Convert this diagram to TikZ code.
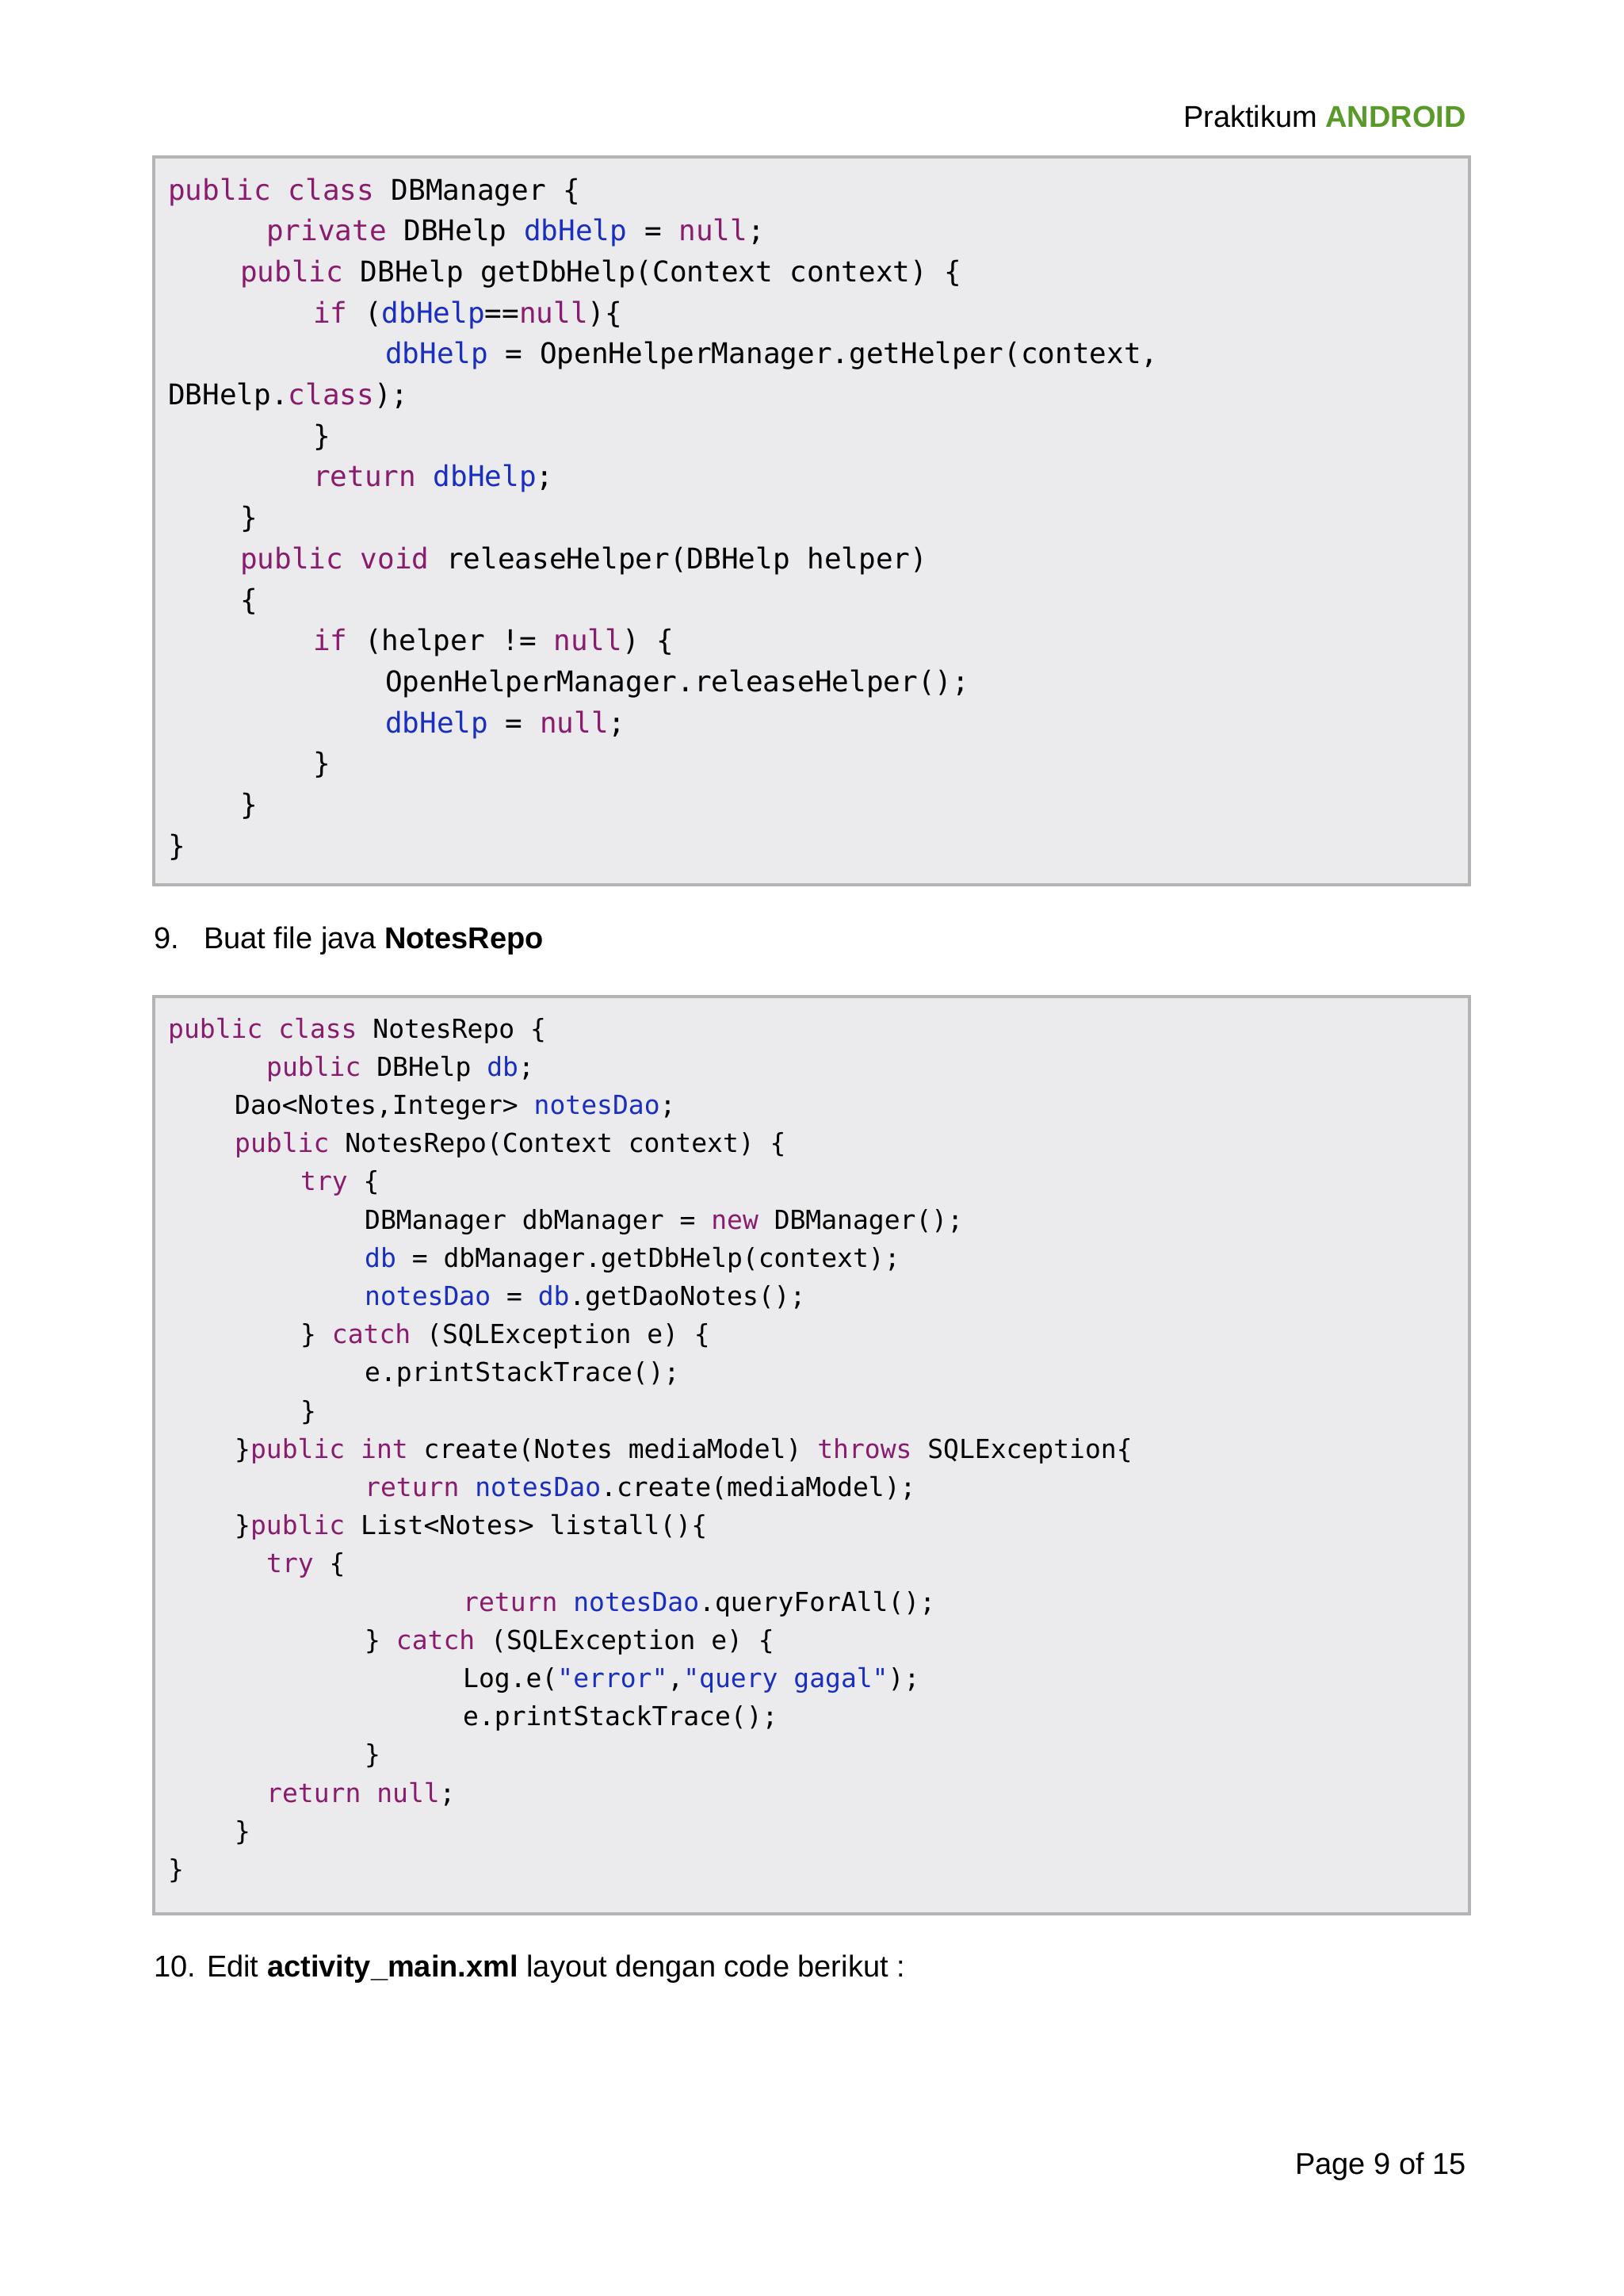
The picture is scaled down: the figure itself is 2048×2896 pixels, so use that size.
\documentclass[tikz,border=0pt]{standalone}
\usepackage{fontspec}
\setmainfont{Liberation Sans}
\newfontfamily\codeA{DejaVu Sans Mono}[Scale=1]
\definecolor{kwc}{HTML}{8A1C6E}
\definecolor{vrc}{HTML}{1A2FC0}
\definecolor{boxf}{HTML}{EBEBED}
\definecolor{boxd}{HTML}{B4B4B4}
\definecolor{andg}{HTML}{5A9A2A}
\newcommand{\kw}[1]{\textcolor{kwc}{#1}}
\newcommand{\vr}[1]{\textcolor{vrc}{#1}}
\begin{document}
\begin{tikzpicture}[x=1pt,y=-1pt,
 cA/.style={anchor=base west,inner sep=0pt,font=\fontsize{36}{40}\codeA},
 cB/.style={anchor=base west,inner sep=0pt,font=\fontsize{33}{36}\codeA},
 txt/.style={anchor=base west,inner sep=0pt,font=\fontsize{38}{44}\selectfont},
 txr/.style={anchor=base east,inner sep=0pt,font=\fontsize{38}{44}\selectfont},
 codebox/.style={draw=boxd,line width=4pt,fill=boxf}]
\useasboundingbox[fill=white] (0,0) rectangle (2048,2896);
\node[txr] (hdr) at (1850,160) {Praktikum \textcolor{andg}{\textbf{ANDROID}}};
\draw[codebox] (194,198) rectangle (1854,1116);
\def\dy{51.7}
\node[cA] (a1) at (212,252+0*\dy) {\kw{public} \kw{class} DBManager \{};
\node[cA] (a2) at (336,252+1*\dy) {\kw{private} DBHelp \vr{dbHelp} = \kw{null};};
\node[cA] (a3) at (303,252+2*\dy) {\kw{public} DBHelp getDbHelp(Context context) \{};
\node[cA] (a4) at (395,252+3*\dy) {\kw{if} (\vr{dbHelp}==\kw{null})\{};
\node[cA] (a5) at (486,252+4*\dy) {\vr{dbHelp} = OpenHelperManager.getHelper(context,};
\node[cA] (a6) at (212,252+5*\dy) {DBHelp.\kw{class});};
\node[cA] (a7) at (395,252+6*\dy) {\}};
\node[cA] (a8) at (395,252+7*\dy) {\kw{return} \vr{dbHelp};};
\node[cA] (a9) at (303,252+8*\dy) {\}};
\node[cA] (a10) at (303,252+9*\dy) {\kw{public} \kw{void} releaseHelper(DBHelp helper)};
\node[cA] (a11) at (303,252+10*\dy) {\{};
\node[cA] (a12) at (395,252+11*\dy) {\kw{if} (helper != \kw{null}) \{};
\node[cA] (a13) at (486,252+12*\dy) {OpenHelperManager.releaseHelper();};
\node[cA] (a14) at (486,252+13*\dy) {\vr{dbHelp} = \kw{null};};
\node[cA] (a15) at (395,252+14*\dy) {\}};
\node[cA] (a16) at (303,252+15*\dy) {\}};
\node[cA] (a17) at (212,252+16*\dy) {\}};
\node[txt] (s9) at (194,1196) {9.};
\node[txt] (s9b) at (257,1196) {Buat file java \textbf{NotesRepo}};
\draw[codebox] (194,1257) rectangle (1854,2414);
\def\ey{48.2}
\node[cB] (b1) at (212,1309+0*\ey) {\kw{public} \kw{class} NotesRepo \{};
\node[cB] (b2) at (336,1309+1*\ey) {\kw{public} DBHelp \vr{db};};
\node[cB] (b3) at (296,1309+2*\ey) {Dao<Notes,Integer> \vr{notesDao};};
\node[cB] (b4) at (296,1309+3*\ey) {\kw{public} NotesRepo(Context context) \{};
\node[cB] (b5) at (379,1309+4*\ey) {\kw{try} \{};
\node[cB] (b6) at (460,1309+5*\ey) {DBManager dbManager = \kw{new} DBManager();};
\node[cB] (b7) at (460,1309+6*\ey) {\vr{db} = dbManager.getDbHelp(context);};
\node[cB] (b8) at (460,1309+7*\ey) {\vr{notesDao} = \vr{db}.getDaoNotes();};
\node[cB] (b9) at (379,1309+8*\ey) {\} \kw{catch} (SQLException e) \{};
\node[cB] (b10) at (460,1309+9*\ey) {e.printStackTrace();};
\node[cB] (b11) at (379,1309+10*\ey) {\}};
\node[cB] (b12) at (296,1309+11*\ey) {\}\kw{public} \kw{int} create(Notes mediaModel) \kw{throws} SQLException\{};
\node[cB] (b13) at (460,1309+12*\ey) {\kw{return} \vr{notesDao}.create(mediaModel);};
\node[cB] (b14) at (296,1309+13*\ey) {\}\kw{public} List<Notes> listall()\{};
\node[cB] (b15) at (336,1309+14*\ey) {\kw{try} \{};
\node[cB] (b16) at (584,1309+15*\ey) {\kw{return} \vr{notesDao}.queryForAll();};
\node[cB] (b17) at (460,1309+16*\ey) {\} \kw{catch} (SQLException e) \{};
\node[cB] (b18) at (584,1309+17*\ey) {Log.e(\vr{"error"},\vr{"query gagal"});};
\node[cB] (b19) at (584,1309+18*\ey) {e.printStackTrace();};
\node[cB] (b20) at (460,1309+19*\ey) {\}};
\node[cB] (b21) at (336,1309+20*\ey) {\kw{return} \kw{null};};
\node[cB] (b22) at (296,1309+21*\ey) {\}};
\node[cB] (b23) at (212,1309+22*\ey) {\}};
\node[txt] (s10) at (194,2493) {10. Edit \textbf{activity\_main.xml} layout dengan code berikut :};
\node[txr] (pg) at (1850,2742) {Page 9 of 15};
\end{tikzpicture}
\end{document}
